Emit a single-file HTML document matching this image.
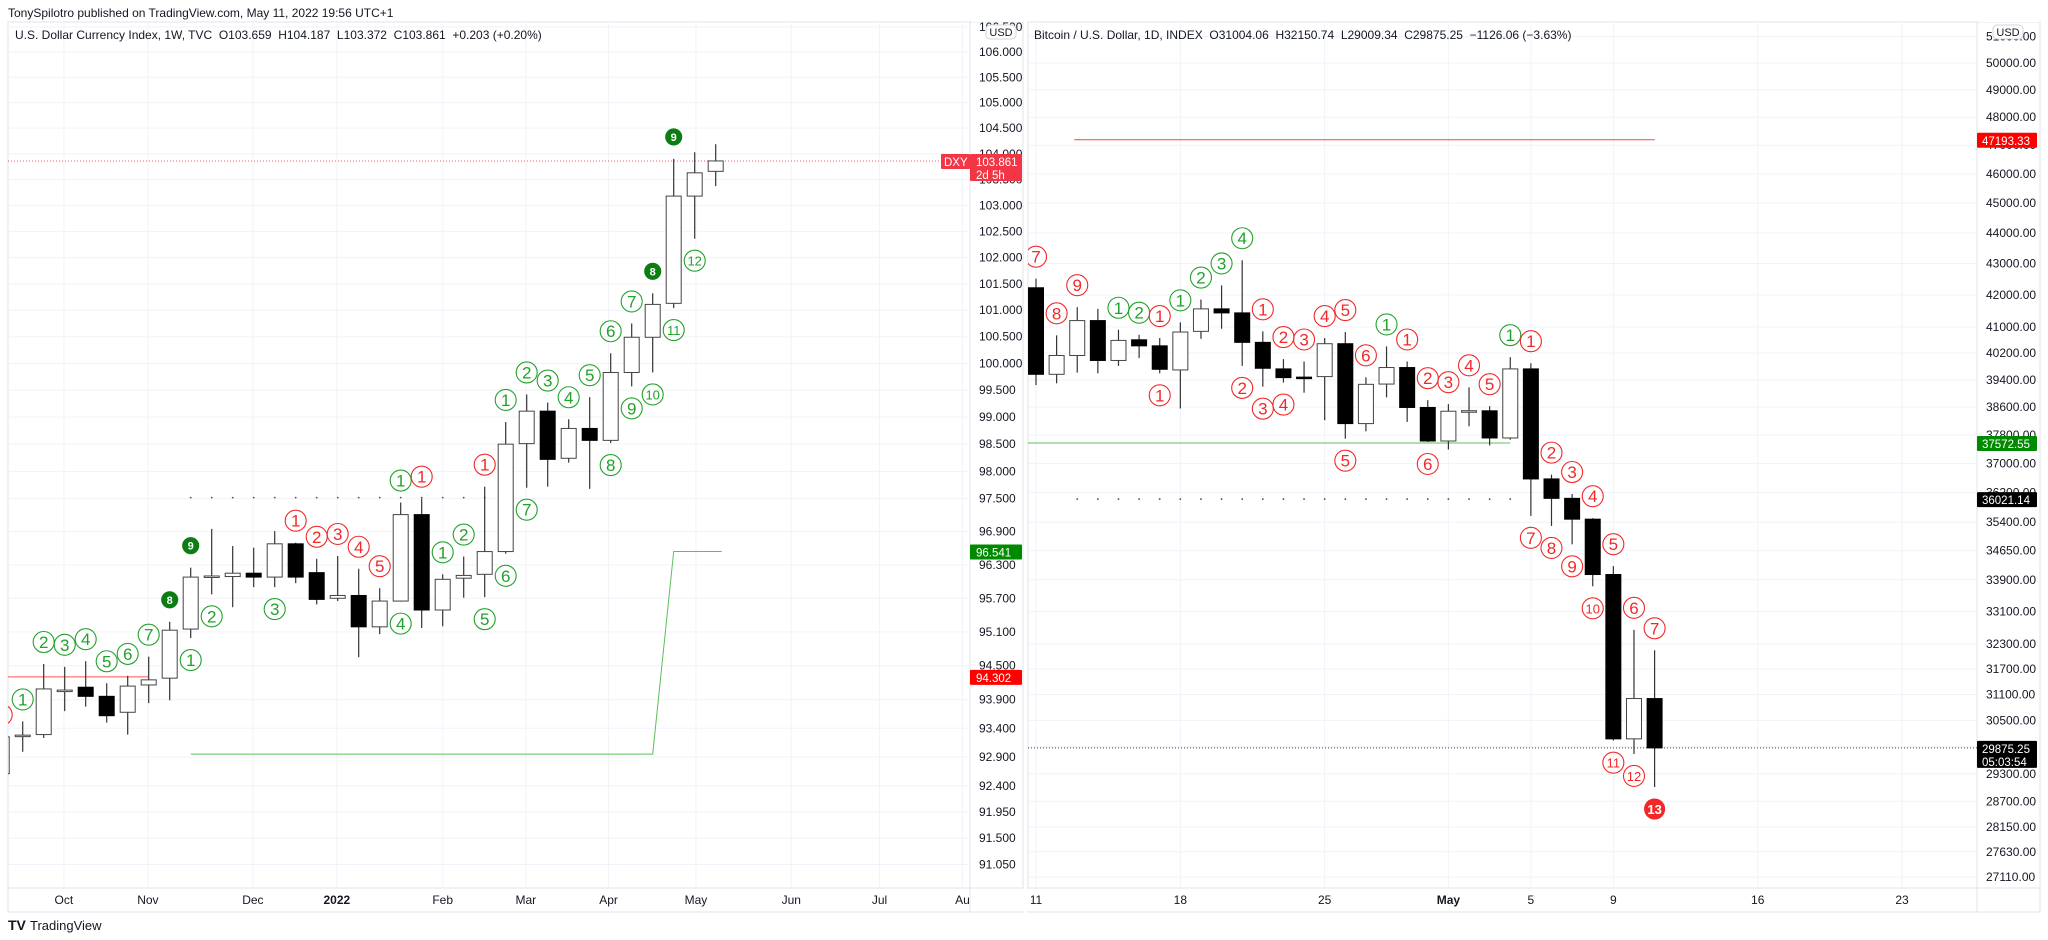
<!DOCTYPE html>
<html><head><meta charset="utf-8"><title>DXY vs BTC</title>
<style>
html,body{margin:0;padding:0;background:#fff;}
svg{display:block;font-family:"Liberation Sans",sans-serif;}
</style></head>
<body>
<svg id="chart" width="2048" height="940" viewBox="0 0 2048 940" xmlns="http://www.w3.org/2000/svg">
<text x="8" y="17" font-size="12" fill="#131722">TonySpilotro published on TradingView.com, May 11, 2022 19:56 UTC+1</text>
<g id="grid"></g>
<g id="lines"></g>
<g id="marks"></g>
<g id="labels"></g>
<g id="axes"></g>
<text x="15" y="39" font-size="12" fill="#131722">U.S. Dollar Currency Index, 1W, TVC&#160; O103.659&#160; H104.187&#160; L103.372&#160; C103.861&#160; +0.203 (+0.20%)</text>
<text x="1034" y="39" font-size="12" fill="#131722">Bitcoin / U.S. Dollar, 1D, INDEX&#160; O31004.06&#160; H32150.74&#160; L29009.34&#160; C29875.25&#160; −1126.06 (−3.63%)</text>
<g>
<text x="8" y="930" font-size="14" font-weight="bold" fill="#131722">TV</text>
<text x="30" y="930" font-size="13" fill="#131722">TradingView</text>
</g>
</svg>
<script>
// ---- DXY weekly data ----
const dxyOpen  = [92.61,93.26,93.29,94.06,94.12,93.96,93.68,94.16,94.28,95.15,96.09,96.09,96.15,96.08,96.68,96.16,95.70,95.75,95.19,95.65,97.21,95.49,96.06,96.13,96.54,98.51,99.11,98.24,98.79,98.57,99.83,100.49,101.13,103.18,103.659];
const dxyHigh  = [93.25,93.52,94.53,94.48,94.58,94.19,94.32,94.66,95.28,96.25,96.95,96.64,96.61,96.91,96.70,96.41,96.46,96.23,95.88,97.43,97.50,96.13,96.45,97.72,98.91,99.42,99.27,98.96,99.37,100.19,100.75,101.32,103.90,104.03,104.187];
const dxyLow   = [92.61,92.99,93.23,93.70,93.78,93.50,93.29,93.84,93.89,94.99,95.77,95.54,95.90,95.90,95.97,95.59,95.65,94.65,95.06,95.64,95.17,95.20,95.71,95.72,96.50,97.70,97.72,98.16,97.68,98.52,99.57,99.83,101.04,102.36,103.372];
const dxyClose = [93.25,93.28,94.09,94.07,93.96,93.62,94.14,94.25,95.13,96.08,96.10,96.15,96.08,96.68,96.08,95.68,95.75,95.19,95.65,97.21,95.49,96.04,96.11,96.54,98.50,99.11,98.22,98.79,98.57,99.83,100.49,101.11,103.18,103.63,103.861];
const dxyTicks = [106.5,106,105.5,105,104.5,104,103.5,103,102.5,102,101.5,101,100.5,100,99.5,99,98.5,98,97.5,96.9,96.3,95.7,95.1,94.5,93.9,93.4,92.9,92.4,91.95,91.5,91.05];
const dxyTimeLabels = ["Oct","Nov","Dec","2022","Feb","Mar","Apr","May","Jun","Jul","Au"];
const dxyTimeIdx = [2.96,6.96,11.96,15.96,21,24.96,28.9,33.06,37.6,41.8,45.75];
const dxyCountIdx = [0,1,2,3,4,5,6,7,8,9,9,10,13,14,15,16,17,18,19,19,20,21,22,23,23,24,24,25,25,26,27,28,29,29,30,30,31,31,32,32,33];
const dxyCountTxt = ["9","1","2","3","4","5","6","7","8","9","1","2","3","1","2","3","4","5","1","4","1","1","2","1","5","6","1","2","7","3","4","5","6","8","7","9","8","10","9","11","12"];
const dxyCountClr = ["r","g","g","g","g","g","g","g","G","G","g","g","g","r","r","r","r","r","g","g","r","g","g","r","g","g","g","g","g","g","g","g","g","g","g","g","G","g","G","g","g"];
const dxyCountPos = ["a","a","a","a","a","a","a","a","a","a","b","b","b","a","a","a","a","a","a","b","a","a","a","a","b","b","a","a","b","a","a","a","a","b","a","b","a","b","a","b","b"];
const dxyDotsLevel = 97.52;
const dxyRedLevel = 94.302;
const dxyGreenLevels = [92.95,96.541];
const dxyLast = 103.861;

// ---- BTC daily data ----
const btcOpen  = [42224,39564,40128,41195,39978,40604,40420,39694,40863,41559,41434,40526,39725,39480,39496,40485,38125,39275,39766,38590,37629,38490,38493,37715,39725,36571,36041,35481,34035,30079,31004.06];
const btcHigh  = [42513,40740,41612,41559,40912,40759,40657,41142,41852,42299,43107,40863,40019,39947,40657,40842,39475,40402,39947,38803,38686,39178,38628,40078,39895,36690,36159,35508,34249,32648,32150.74];
const btcLow   = [39246,39297,39616,39594,39815,40049,39594,38560,40634,40943,39815,39199,39319,39021,38221,37695,37904,38883,38174,37601,37391,38047,37504,37666,35570,35302,34816,33735,30038,29739,29009.34];
const btcClose = [39564,40128,41195,39978,40586,40420,39714,40842,41559,41434,40526,39744,39466,39470,40485,38125,39267,39766,38590,37629,38481,38495,37715,39725,36571,36041,35481,34035,30079,31005,29875.25];
const btcTicks = [51000,50000,49000,48000,47000,46000,45000,44000,43000,42000,41000,40200,39400,38600,37800,37000,36200,35400,34650,33900,33100,32300,31700,31100,30500,29900,29300,28700,28150,27630,27110];
const btcTimeLabels = ["11","18","25","May","5","9","16","23"];
const btcTimeIdx = [0,7,14,20,24,28,35,42];
const btcCountIdx = [0,1,2,4,5,6,6,7,8,9,10,10,11,11,12,12,13,14,15,15,16,17,18,19,19,20,21,22,23,24,24,25,25,26,26,27,27,28,28,29,29,30,30];
const btcCountTxt = ["7","8","9","1","2","1","1","1","2","3","4","2","1","3","2","4","3","4","5","5","6","1","1","2","6","3","4","5","1","1","7","2","8","3","9","4","10","5","11","6","12","7","13"];
const btcCountClr = ["r","r","r","g","g","r","r","g","g","g","g","r","r","r","r","r","r","r","r","r","r","g","r","r","r","r","r","r","g","r","r","r","r","r","r","r","r","r","r","r","r","r","R"];
const btcCountPos = ["a","a","a","a","a","a","b","a","a","a","a","b","a","b","a","b","a","a","a","b","a","a","a","a","b","a","a","a","a","a","b","a","b","a","b","a","b","a","b","a","b","a","b"];
const btcDotsLevel = 36021.14;
const btcRedLevel = 47193.33;
const btcGreenLevel = 37572.55;
const btcLast = 29875.25;

// ---- scales ----
const NS = "http://www.w3.org/2000/svg";
const L = {x0:8, x1:970, ax1:1023, top:22, bottom:888};
const R = {x0:1028, x1:1977, ax1:2040, top:22, bottom:888};
function yL(p){ return 52 + 5344*Math.log(106/p); }
function yR(p){ return 443 + 1330*Math.log(37572.55/p); }
function xL(i){ return 1.7 + 21*i; }
function xR(i){ return 1036 + 20.62*i; }

function mk(tag, attrs, parent){
  const e = document.createElementNS(NS, tag);
  for (const k in attrs) e.setAttribute(k, attrs[k]);
  parent.appendChild(e);
  return e;
}
const svg = document.getElementById('chart');
const gGrid = document.getElementById('grid');
const gLines = document.getElementById('lines');
const gMarks = document.getElementById('marks');
const gLab = document.getElementById('labels');
const gAx = document.getElementById('axes');

const defs = mk('defs', {}, svg);
const cpL = mk('clipPath', {id:'clipL'}, defs);
mk('rect', {x:L.x0, y:L.top, width:L.x1-L.x0, height:L.bottom-L.top}, cpL);
const cpR = mk('clipPath', {id:'clipR'}, defs);
mk('rect', {x:R.x0, y:R.top, width:R.x1-R.x0, height:R.bottom-R.top}, cpR);



function frame(P, name){
  const r = mk('rect', {x:P.x0, y:P.top, width:P.ax1-P.x0, height:912-P.top, fill:'none', stroke:'#e0e3eb', 'stroke-width':1}, gGrid);
  
  
  const v = mk('line', {x1:P.x1, x2:P.x1, y1:P.top, y2:912, stroke:'#e0e3eb'}, gGrid);
  
  
  const h = mk('line', {x1:P.x0, x2:P.ax1, y1:P.bottom, y2:P.bottom, stroke:'#e0e3eb'}, gGrid);
  
  
}
frame(L, 'dxy-pane');
frame(R, 'btc-pane');

function yAxis(P, ticks, yf, fmt, name){
  ticks.forEach(t => {
    const y = yf(t);
    if (y > P.top && y < P.bottom){
      const g = mk('line', {x1:P.x0, x2:P.x1, y1:y, y2:y, stroke:'#f0f3fa'}, gGrid);
      
      
    }
    const tx = mk('text', {x:P.x1+9, y:y+4, 'font-size':12, fill:'#131722'}, gAx);
    tx.textContent = fmt(t);
    
    
  });
  const cover = mk('rect', {x:P.x1+1, y:0, width:P.ax1-P.x1-1, height:L.top, fill:'#fff'}, gAx);
  
  
  const b = mk('rect', {x:P.x1+16, y:25, width:30, height:14, rx:4, fill:'#fff', stroke:'#d1d4dc'}, gAx);
  
  
  const bt = mk('text', {x:P.x1+31, y:36, 'font-size':11, fill:'#131722', 'text-anchor':'middle'}, gAx);
  bt.textContent = 'USD';
  
  
}
yAxis(L, dxyTicks, yL, v => v.toFixed(3), 'dxy-price');
yAxis(R, btcTicks, yR, v => v.toFixed(2), 'btc-price');

function xAxis(P, labels, idx, xf, name, boldSet){
  labels.forEach((lab, k) => {
    const x = xf(idx[k]);
    const g = mk('line', {x1:x, x2:x, y1:P.top, y2:P.bottom, stroke:'#f0f3fa'}, gGrid);
    
    
    const t = mk('text', {x:x, y:904, 'font-size':12, fill:'#131722', 'text-anchor':'middle', 'font-weight': boldSet.includes(lab)?'bold':'normal'}, gAx);
    t.textContent = lab;
    
    
  });
}
xAxis(L, dxyTimeLabels, dxyTimeIdx, xL, 'dxy-time', ['2022']);
xAxis(R, btcTimeLabels, btcTimeIdx, xR, 'btc-time', ['May']);
const au = mk('rect', {x:L.x1+1, y:889, width:60, height:22, fill:'#fff'}, gAx);



const lg = mk('g', {'clip-path':'url(#clipL)'}, gLines);


const rg = mk('g', {'clip-path':'url(#clipR)'}, gLines);



let e;
e = mk('line', {x1:L.x0, x2:L.x1, y1:yL(dxyLast), y2:yL(dxyLast), stroke:'#f7525f', 'stroke-width':1, 'stroke-dasharray':'1 2'}, lg);


e = mk('line', {x1:L.x0, x2:xL(7), y1:yL(dxyRedLevel), y2:yL(dxyRedLevel), stroke:'#ff5050', 'stroke-width':1}, lg);


e = mk('polyline', {points:[[xL(9),yL(dxyGreenLevels[0])],[xL(31),yL(dxyGreenLevels[0])],[xL(32),yL(dxyGreenLevels[1])],[xL(34)+6,yL(dxyGreenLevels[1])]].map(p=>p.join(',')).join(' '), fill:'none', stroke:'#5cbf5c', 'stroke-width':1}, lg);


for (let i=9;i<=23;i++){
  e = mk('circle', {cx:xL(i), cy:yL(dxyDotsLevel), r:0.9, fill:'#555'}, lg);
  
  
}
e = mk('line', {x1:R.x0, x2:R.x1, y1:yR(btcLast), y2:yR(btcLast), stroke:'#444', 'stroke-width':1, 'stroke-dasharray':'1 2'}, rg);


e = mk('line', {x1:xR(2)-3, x2:xR(30), y1:yR(btcRedLevel), y2:yR(btcRedLevel), stroke:'#ff4040', 'stroke-width':1}, rg);


e = mk('line', {x1:R.x0, x2:xR(23), y1:yR(btcGreenLevel), y2:yR(btcGreenLevel), stroke:'#5cbf5c', 'stroke-width':1}, rg);


for (let i=2;i<=23;i++){
  e = mk('circle', {cx:xR(i), cy:yR(btcDotsLevel), r:0.9, fill:'#555'}, rg);
  
  
}

function candles(O,H,Lo,C,xf,yf,parent,name){
  O.forEach((o,i) => {
    const x = xf(i), c = C[i];
    const up = c >= o;
    const w = mk('line', {x1:x, x2:x, y1:yf(H[i]), y2:yf(Lo[i]), stroke:'#333', 'stroke-width':1.2}, parent);
    
    
    const yt = yf(Math.max(o,c)), yb = yf(Math.min(o,c));
    const b = mk('rect', {x:x-7.5, y:yt, width:15, height:Math.max(1.5, yb-yt), fill: up?'#fff':'#000', stroke: up?'#444':'#000', 'stroke-width':1}, parent);
    
    
  });
}
const cgL = mk('g', {'clip-path':'url(#clipL)'}, gMarks);


const cgR = mk('g', {'clip-path':'url(#clipR)'}, gMarks);


candles(dxyOpen,dxyHigh,dxyLow,dxyClose,xL,yL,cgL,'dxy');
candles(btcOpen,btcHigh,btcLow,btcClose,xR,yR,cgR,'btc');

function counts(idx,txt,clr,pos,H,Lo,xf,yf,parent,name){
  idx.forEach((i,k) => {
    const x = xf(i);
    const y = pos[k]==='a' ? yf(H[i]) - 22 : yf(Lo[i]) + 22;
    const c = clr[k];
    const filled = (c==='G' || c==='R');
    const col = c==='g' ? '#22a22a' : c==='G' ? '#0b7d12' : '#f22828';
    const g = mk('g', {}, parent);
    
    
    const r = filled ? (c==='G'?8:10) : 10.5;
    mk('circle', {cx:x, cy:y, r:r, fill: filled?col:'#fff', 'fill-opacity': filled?1:0, stroke:col, 'stroke-width':1.1}, g);
    const two = txt[k].length > 1;
    const t = mk('text', {x:x, y:y+ (filled? (c==='G'?4:5) : (two?5:6)), 'font-size': filled ? (c==='G'?11:13) : (two?13:17), 'font-weight': filled?'bold':'normal', fill: filled?'#fff':col, 'text-anchor':'middle'}, g);
    t.textContent = txt[k];
  });
}
const lbL = mk('g', {'clip-path':'url(#clipL)'}, gLab);


const lbR = mk('g', {'clip-path':'url(#clipR)'}, gLab);


counts(dxyCountIdx,dxyCountTxt,dxyCountClr,dxyCountPos,dxyHigh,dxyLow,xL,yL,lbL,'dxy');
counts(btcCountIdx,btcCountTxt,btcCountClr,btcCountPos,btcHigh,btcLow,xR,yR,lbR,'btc');

function tag(x,y,w,h,fill,lines,name,anchorX){
  const g = mk('g', {}, gAx);
  
  
  mk('rect', {x:x, y:y, width:w, height:h, fill:fill, rx:1}, g);
  lines.forEach((s,k) => {
    const t = mk('text', {x:anchorX, y:y+12+k*13, 'font-size':11.5, fill:'#fff'}, g);
    t.textContent = s;
  });
}
const LW = 52, RW = 60;
let yy = yL(dxyLast);
tag(941, yy-7, 29, 15, '#f23645', ['DXY'], 'dxy-symbol-tag', 944);
tag(L.x1, yy-7, LW, 27, '#f23645', [dxyLast.toFixed(3), '2d 5h'], 'dxy-last-price-tag', L.x1+6);
yy = yL(dxyGreenLevels[1]);
tag(L.x1, yy-7, LW, 15, '#008a00', [dxyGreenLevels[1].toFixed(3)], 'dxy-green-level-tag', L.x1+6);
yy = yL(dxyRedLevel);
tag(L.x1, yy-7, LW, 15, '#ff0000', [dxyRedLevel.toFixed(3)], 'dxy-red-level-tag', L.x1+6);
yy = yR(btcRedLevel);
tag(R.x1, yy-7, RW, 15, '#ff0000', [btcRedLevel.toFixed(2)], 'btc-red-level-tag', R.x1+5);
yy = yR(btcGreenLevel);
tag(R.x1, yy-7, RW, 15, '#008a00', [btcGreenLevel.toFixed(2)], 'btc-green-level-tag', R.x1+5);
yy = yR(btcDotsLevel);
tag(R.x1, yy-7, RW, 15, '#000', [btcDotsLevel.toFixed(2)], 'btc-dots-level-tag', R.x1+5);
yy = yR(btcLast);
tag(R.x1, yy-7, RW, 27, '#000', [btcLast.toFixed(2), '05:03:54'], 'btc-last-price-tag', R.x1+5);
</script>
</body></html>
